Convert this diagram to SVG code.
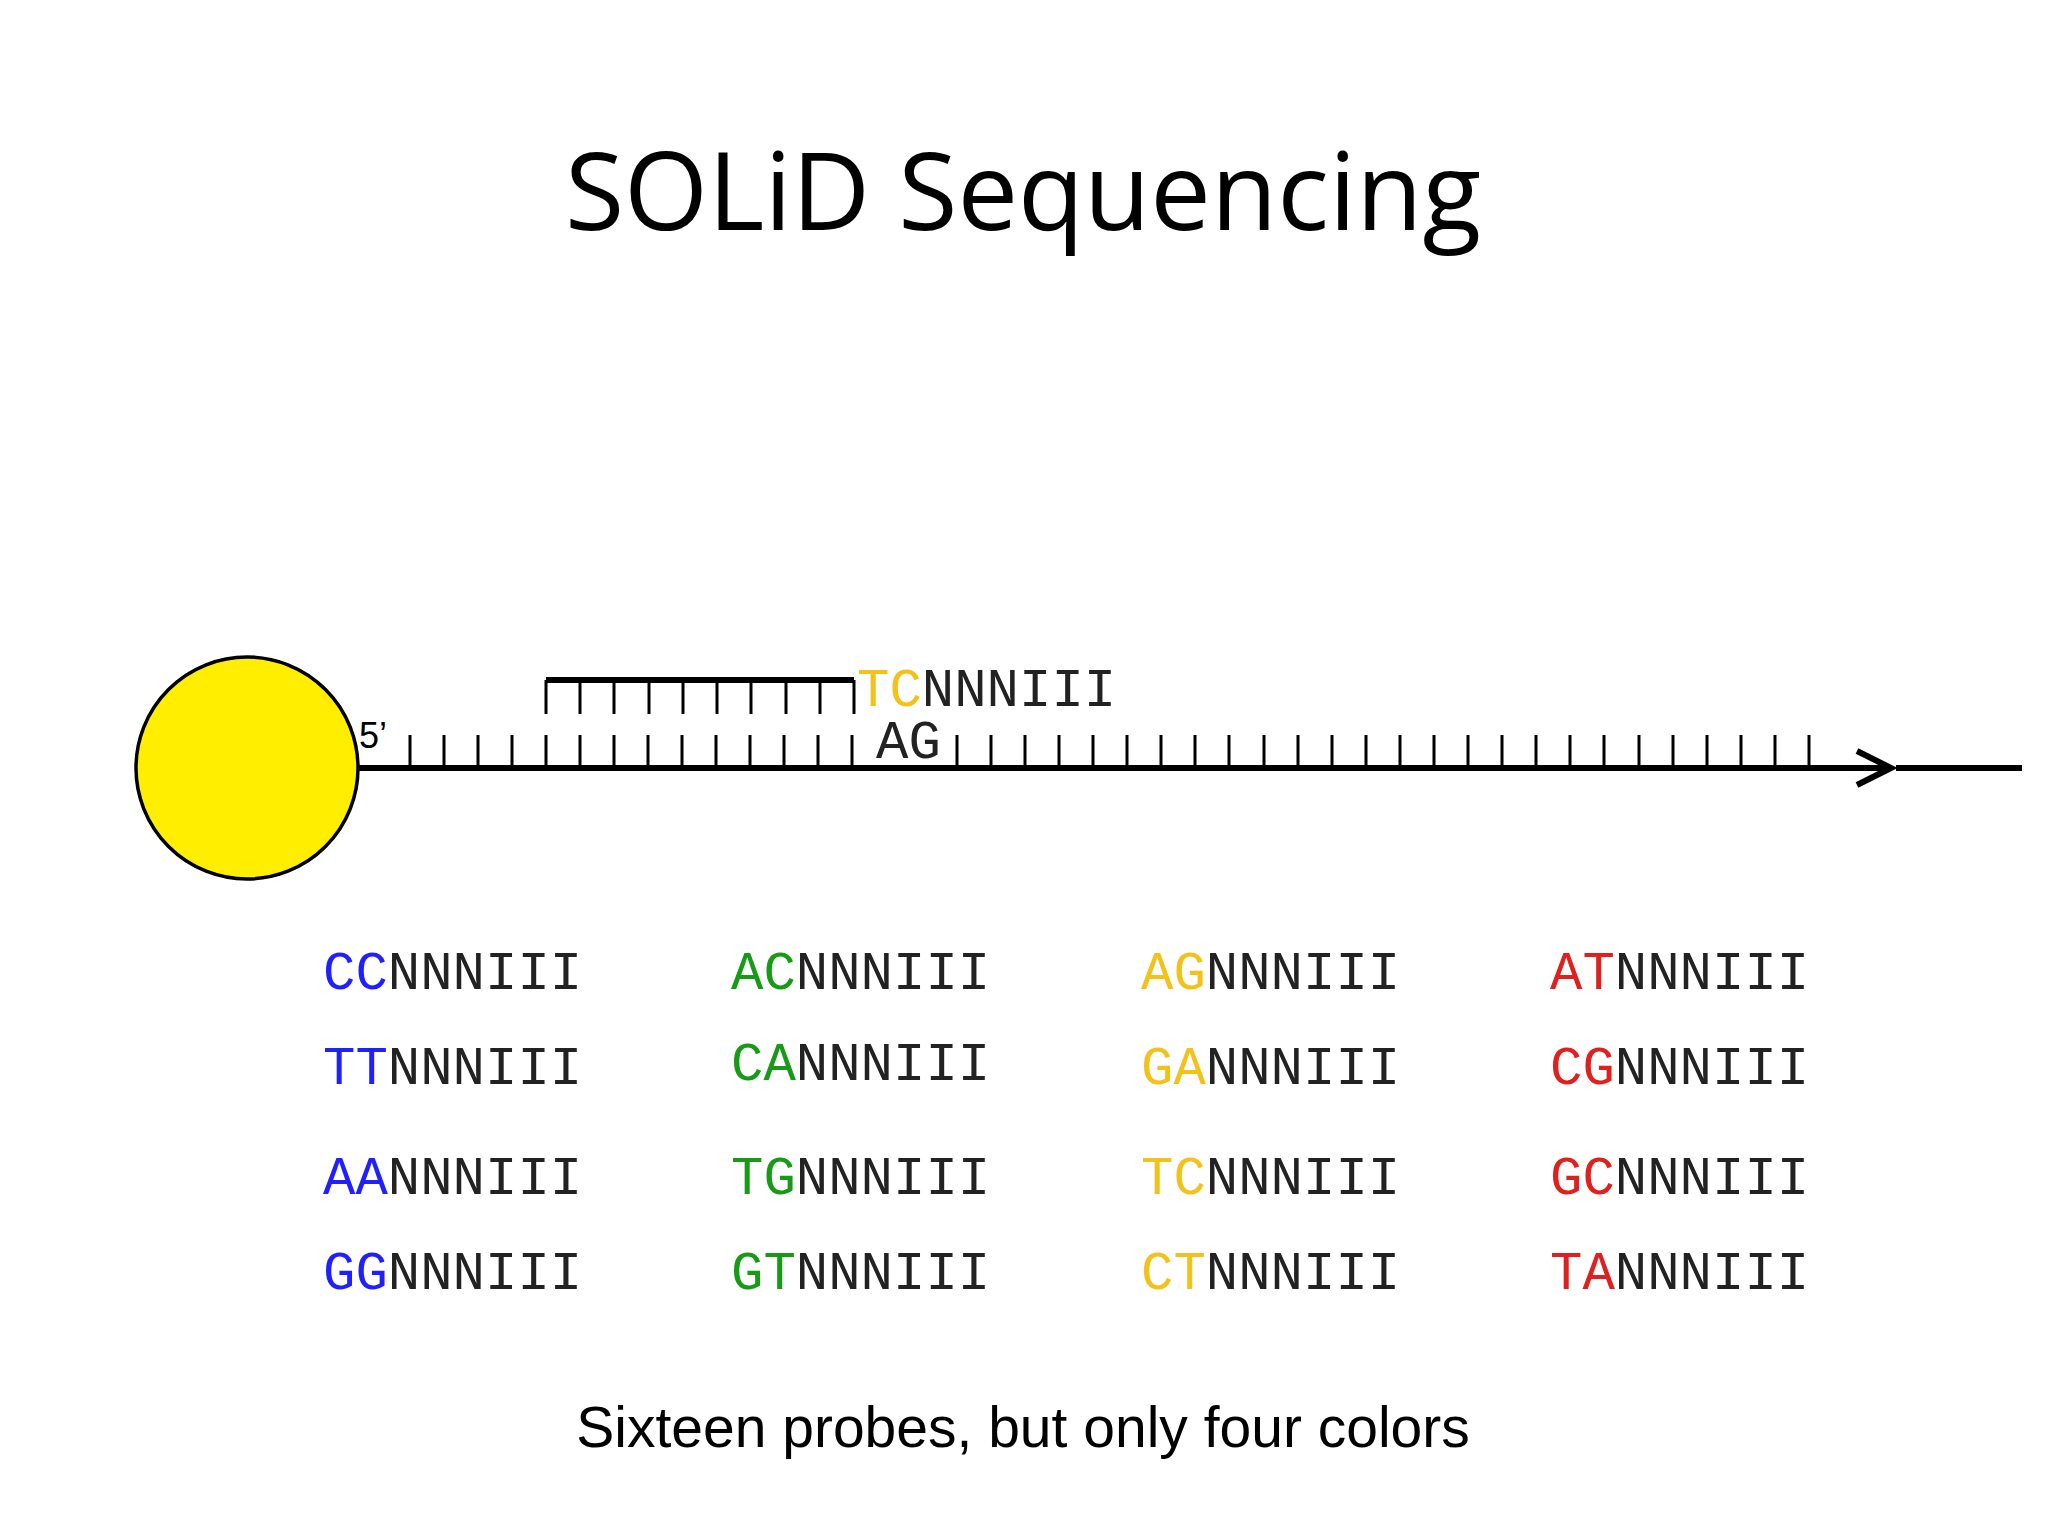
<svg xmlns="http://www.w3.org/2000/svg" width="2048" height="1536" viewBox="0 0 2048 1536">
<style>
.m{font-family:"Liberation Mono",monospace;font-size:54px;fill:#222}
.b{fill:#1f1fff}.g{fill:#179b17}.y{fill:#f2c21b}.r{fill:#e0201f}
.s{stroke:#000;stroke-width:6;fill:none}
.t{stroke:#000;stroke-width:3}
</style>
<rect width="2048" height="1536" fill="#fff"/>
<text x="1023" y="230" text-anchor="middle" font-family="Open Sans, sans-serif" font-size="108" fill="#000">SOLiD Sequencing</text>
<g id="bead"><circle cx="247" cy="768" r="111" fill="#ffee00" stroke="#000" stroke-width="3.5"/></g>
<g id="connectors">
<line class="s" x1="358" y1="768" x2="1891" y2="768"/>
<polyline class="s" points="1857,751 1891,768 1857,785"/>
<line class="s" x1="1896" y1="768" x2="2022" y2="768"/>
<line class="s" x1="546" y1="680" x2="854" y2="680"/>
<g class="t">
<path d="M410 735V768M444 735V768M478 735V768M512 735V768M546 735V768M580 735V768M614 735V768M648 735V768M682 735V768M716 735V768M750 735V768M784 735V768M818 735V768M852 735V768"/>
<path d="M957 735V768M991 735V768M1025 735V768M1059 735V768M1093 735V768M1127 735V768M1161 735V768M1195 735V768M1229 735V768M1264 735V768M1298 735V768M1332 735V768M1366 735V768M1400 735V768M1434 735V768M1468 735V768M1502 735V768M1536 735V768M1570 735V768M1604 735V768M1639 735V768M1673 735V768M1707 735V768M1741 735V768M1775 735V768M1809 735V768"/>
<path d="M546 680V714M580 680V714M614 680V714M649 680V714M683 680V714M717 680V714M751 680V714M786 680V714M820 680V714M854 680V714"/>
</g>
</g>
<text x="359" y="748" font-family="Liberation Sans, sans-serif" font-size="36">5’</text>
<text class="m" x="857" y="706"><tspan class="y">TC</tspan>NNNIII</text>
<text class="m" x="876" y="758">AG</text>
<g id="probes" class="m">
<text x="323" y="989"><tspan class="b">CC</tspan>NNNIII</text>
<text x="323" y="1084"><tspan class="b">TT</tspan>NNNIII</text>
<text x="323" y="1194"><tspan class="b">AA</tspan>NNNIII</text>
<text x="323" y="1289"><tspan class="b">GG</tspan>NNNIII</text>
<text x="731" y="989"><tspan class="g">AC</tspan>NNNIII</text>
<text x="731" y="1080"><tspan class="g">CA</tspan>NNNIII</text>
<text x="731" y="1194"><tspan class="g">TG</tspan>NNNIII</text>
<text x="731" y="1289"><tspan class="g">GT</tspan>NNNIII</text>
<text x="1141" y="989"><tspan class="y">AG</tspan>NNNIII</text>
<text x="1141" y="1084"><tspan class="y">GA</tspan>NNNIII</text>
<text x="1141" y="1194"><tspan class="y">TC</tspan>NNNIII</text>
<text x="1141" y="1289"><tspan class="y">CT</tspan>NNNIII</text>
<text x="1550" y="989"><tspan class="r">AT</tspan>NNNIII</text>
<text x="1550" y="1084"><tspan class="r">CG</tspan>NNNIII</text>
<text x="1550" y="1194"><tspan class="r">GC</tspan>NNNIII</text>
<text x="1550" y="1289"><tspan class="r">TA</tspan>NNNIII</text>
</g>
<text x="1023" y="1447" text-anchor="middle" font-family="Liberation Sans, sans-serif" font-size="57" fill="#000">Sixteen probes, but only four colors</text>
</svg>
